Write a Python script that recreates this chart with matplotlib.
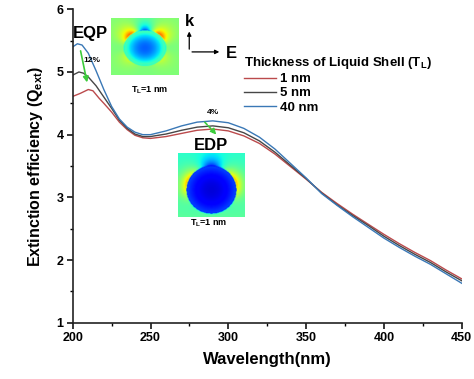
import numpy as np
import matplotlib
matplotlib.use("Agg")
import matplotlib.pyplot as plt

plt.rcParams['font.family'] = ['Liberation Sans', 'DejaVu Sans']
plt.rcParams['font.weight'] = 'bold'
plt.rcParams['mathtext.fontset'] = 'custom'
plt.rcParams['mathtext.rm'] = 'Liberation Sans:bold'
plt.rcParams['mathtext.it'] = 'Liberation Sans:bold'
plt.rcParams['mathtext.bf'] = 'Liberation Sans:bold'

# Extinction spectra
wl_1nm = [200, 205, 210, 213, 217, 220, 225, 230, 235, 240, 245, 250, 260, 270, 280, 290,
          300, 310, 320, 330, 340, 350, 360, 370, 380, 390, 400, 410, 420, 430, 440, 450]
q_1nm = [4.61, 4.66, 4.72, 4.70, 4.58, 4.50, 4.36, 4.20, 4.08, 3.99, 3.95, 3.94, 3.97, 4.02, 4.07, 4.09,
         4.06, 3.98, 3.86, 3.69, 3.49, 3.29, 3.08, 2.90, 2.73, 2.57, 2.41, 2.26, 2.12, 1.99, 1.84, 1.70]

wl_5nm = [200, 204, 207, 210, 215, 220, 225, 230, 235, 240, 245, 250, 260, 270, 280, 290,
          300, 310, 320, 330, 340, 350, 360, 370, 380, 390, 400, 410, 420, 430, 440, 450]
q_5nm = [4.95, 5.00, 4.98, 4.92, 4.78, 4.60, 4.42, 4.23, 4.10, 4.01, 3.97, 3.97, 4.01, 4.07, 4.12, 4.14,
         4.11, 4.03, 3.90, 3.72, 3.51, 3.30, 3.07, 2.88, 2.71, 2.55, 2.38, 2.23, 2.09, 1.96, 1.81, 1.67]

wl_40nm = [200, 203, 206, 210, 215, 220, 225, 230, 235, 240, 245, 250, 260, 270, 280, 290,
           300, 310, 320, 330, 340, 350, 360, 370, 380, 390, 400, 410, 420, 430, 440, 450]
q_40nm = [5.40, 5.45, 5.43, 5.30, 5.02, 4.72, 4.45, 4.25, 4.12, 4.04, 4.00, 4.00, 4.06, 4.14, 4.20, 4.22,
          4.19, 4.10, 3.96, 3.77, 3.54, 3.31, 3.06, 2.87, 2.69, 2.52, 2.35, 2.20, 2.06, 1.93, 1.78, 1.63]

series_labels = ["1 nm", "5 nm", "40 nm"]
series_colors = ["#bb4a4c", "#474747", "#3a78b6"]


def field_map(kind):
    """Rough near-field pattern for the insets (illustration only)."""
    y, x = np.mgrid[1:-1:120j, -1:1:120j]
    if kind == "quad":
        cy, R = -0.05, 0.62
    else:
        cy, R = -0.15, 0.75
    yy = y - cy
    r = np.hypot(x, yy)
    th = np.arctan2(x, yy)  # 0 at top
    decay = np.exp(-np.clip(r - R, 0, None) / 0.22)
    if kind == "quad":
        out = 0.5 + decay * (0.42 * np.sin(2 * th) ** 2 * (0.55 + 0.45 * np.cos(th))
                             - 0.3 * np.clip(np.cos(th), 0, None) ** 10)
        inside = 0.22 + 0.25 * (r / R) ** 2
    else:
        out = 0.4 + decay * (0.45 * np.sin(th) ** 2 * np.clip(np.cos(th - np.sign(x) * 0.9), 0, None) ** 2
                             - 0.25 * np.clip(np.cos(th), 0, None) ** 12)
        out = out + 0.06 * np.clip(-y, 0, None)
        inside = 0.08 + 0.12 * (r / R) ** 2
    img = np.where(r < R, inside, out)
    ring = np.abs(r - R) < 0.025
    img = np.where(ring, img * 0.85, img)
    return img


fig = plt.figure(figsize=(4.74, 3.79), dpi=100)
ax = fig.add_axes([0.1534, 0.1485, 0.8206, 0.827])

for wl, q, lab, col in zip([wl_1nm, wl_5nm, wl_40nm], [q_1nm, q_5nm, q_40nm], series_labels, series_colors):
    ax.plot(wl, q, color=col, lw=1.0, label=lab)

ax.set_xlim(200, 450)
ax.set_ylim(1, 6)
ax.set_xticks([200, 250, 300, 350, 400, 450])
ax.set_yticks([1, 2, 3, 4, 5, 6])
ax.set_xticks([225, 275, 325, 375, 425], minor=True)
ax.set_yticks([1.5, 2.5, 3.5, 4.5, 5.5], minor=True)
ax.tick_params(which='major', direction='out', length=4.5, width=1.1, labelsize=9, pad=2)
ax.tick_params(which='minor', direction='out', length=2.5, width=1.0)
for s in ['top', 'right']:
    ax.spines[s].set_visible(False)
for s in ['left', 'bottom']:
    ax.spines[s].set_linewidth(1.2)
    ax.spines[s].set_color('#222222')

ax.set_xlabel("Wavelength(nm)", fontsize=12, fontweight='bold', labelpad=6)
ax.set_ylabel("Extinction efficiency (Q$_{ext}$)", fontsize=11.5, fontweight='bold', labelpad=8)

leg = ax.legend(loc='upper left', bbox_to_anchor=(244 / 474, 1 - 55 / 379), bbox_transform=fig.transFigure,
                frameon=False, fontsize=9.5, title="Thickness of Liquid Shell (T$_{L}$)",
                title_fontproperties={'size': 9.5, 'weight': 'bold'}, alignment='left',
                handlelength=2.4, handletextpad=0.35, labelspacing=0.15, borderpad=0, borderaxespad=0)

# annotations
ax.text(211.6, 5.62, "EQP", fontsize=12, fontweight='bold', ha='center', va='center')
ax.text(288.9, 3.82, "EDP", fontsize=12, fontweight='bold', ha='center', va='center')
ax.text(249.7, 4.71, "T$_{L}$=1 nm", fontsize=6.5, ha='center', va='center')
ax.text(287.2, 2.59, "T$_{L}$=1 nm", fontsize=6.5, ha='center', va='center')

green = "#3ccc3c"
ax.annotate("", xy=(209.6, 4.79), xytext=(204.7, 5.38),
            arrowprops=dict(arrowstyle='-|>', color=green, lw=1.2, mutation_scale=8))
ax.text(212.2, 5.18, "12%", fontsize=6, ha='center', va='center')
ax.annotate("", xy=(293.6, 3.97), xytext=(283.7, 4.23),
            arrowprops=dict(arrowstyle='-|>', color=green, lw=1.2, mutation_scale=8, linestyle=(0, (2, 1))))
ax.text(290.2, 4.35, "4%", fontsize=6, ha='center', va='center')

# k / E arrows
ax.annotate("", xy=(274.9, 5.69), xytext=(274.9, 5.32),
            arrowprops=dict(arrowstyle='-|>', color='black', lw=0.9, mutation_scale=6))
ax.annotate("", xy=(296.0, 5.32), xytext=(274.9, 5.32),
            arrowprops=dict(arrowstyle='-|>', color='black', lw=0.9, mutation_scale=6))
ax.text(275.0, 5.80, "k", fontsize=12, fontweight='bold', ha='center', va='center')
ax.text(302.0, 5.29, "E", fontsize=12, fontweight='bold', ha='center', va='center')

# inset field maps
ins1 = fig.add_axes([111 / 474, 1 - 75 / 379, 68 / 474, 57 / 379])
ins1.imshow(field_map("quad"), cmap='jet', vmin=0, vmax=1, aspect='auto', interpolation='bilinear')
ins1.axis('off')
ins2 = fig.add_axes([178 / 474, 1 - 217 / 379, 66 / 474, 64 / 379])
ins2.imshow(field_map("dip"), cmap='jet', vmin=0, vmax=1, aspect='auto', interpolation='bilinear')
ins2.axis('off')

fig.savefig("out.png", dpi=100)
